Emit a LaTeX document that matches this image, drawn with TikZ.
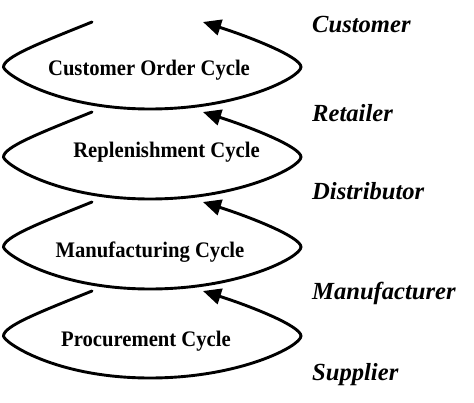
\documentclass[tikz,border=0pt]{standalone}
\usepackage{fontspec}
\usepackage{graphicx}
\setmainfont{Liberation Serif}
\usetikzlibrary{arrows.meta}
\newcommand{\cyctext}[1]{\scalebox{0.93}[1]{#1}}
\begin{document}
\begin{tikzpicture}[x=1pt,y=-1pt,
  cyc/.style={line width=2.9pt, line cap=round},
  tipstyle/.style={-{Triangle[length=18pt,width=16pt]}},
  cyclabel/.style={font=\fontsize{22.2}{26}\selectfont\bfseries, anchor=base, inner sep=0pt},
  rolelabel/.style={font=\fontsize{24.6}{28}\selectfont\bfseries\itshape, anchor=base west, inner sep=0pt}]
\useasboundingbox (0,0) rectangle (474,403);
\foreach \i/\m in {1/67,2/157,3/247,4/336}{
  \coordinate (s\i) at (92,\m-45);
  \coordinate (l\i) at (3.5,\m);
  \coordinate (b\i) at (150,\m+42);
  \coordinate (r\i) at (301,\m);
  \coordinate (a\i) at (203,\m-45);
  \draw[cyc] (s\i) .. controls (40,\m-24) and (3.5,\m-10) .. (l\i)
     .. controls (3.5,\m+6) and (55,\m+42) .. (b\i)
     .. controls (240,\m+42) and (301,\m+10) .. (r\i);
  \draw[cyc,tipstyle] (r\i) .. controls (301,\m-10) and (250,\m-30) .. (a\i);
}
\node[cyclabel] (c1) at (149,76) {\cyctext{Customer Order Cycle}};
\node[cyclabel] (c2) at (166.5,158) {\cyctext{Replenishment Cycle}};
\node[cyclabel] (c3) at (150,258) {\cyctext{Manufacturing Cycle}};
\node[cyclabel] (c4) at (146,347) {\cyctext{Procurement Cycle}};
\node[rolelabel] (customer) at (312,33) {Customer};
\node[rolelabel] (retailer) at (312,122) {Retailer};
\node[rolelabel] (distributor) at (312,200) {Distributor};
\node[rolelabel] (manufacturer) at (312,300) {Manufacturer};
\node[rolelabel] (supplier) at (312,381) {Supplier};
\end{tikzpicture}
\end{document}
